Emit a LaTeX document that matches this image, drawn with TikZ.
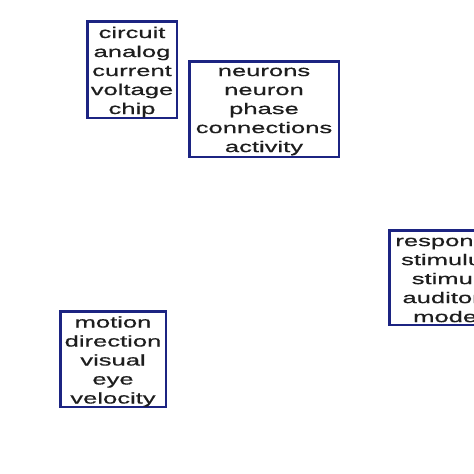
\documentclass[tikz,border=0pt]{standalone}
\usepackage{fontspec}
\newfontfamily\wordfont[FakeStretch=1.65,FakeBold=0.6]{Liberation Sans}
\definecolor{boxblue}{RGB}{28,36,130}
\definecolor{wordgray}{RGB}{30,30,30}
\tikzset{
  frame/.style={draw=boxblue, line width=2.5pt, rectangle, inner sep=0pt},
  words/.style={inner sep=0pt, align=center,
    font=\wordfont\fontsize{15.5}{19}\selectfont, text=wordgray}}
\begin{document}
\begin{tikzpicture}[x=1pt,y=-1pt]
\useasboundingbox (0,0) rectangle (474,474);
\clip (0,0) rectangle (474,474);
\fill[white] (0,0) rectangle (474,474);
\node[frame, minimum width=89.5pt, minimum height=96.5pt] (f1) at (132,69.5) {};
\node[words] (t1) at ([yshift=-2.5pt]f1.center) {circuit\\analog\\current\\voltage\\chip};
\node[frame, minimum width=149.5pt, minimum height=95.5pt] (f2) at (264,109) {};
\node[words] (t2) at ([yshift=-2.5pt]f2.center) {neurons\\neuron\\phase\\connections\\activity};
\node[frame, minimum width=117.5pt, minimum height=94.5pt] (f3) at (448,277.5) {};
\node[words] (t3) at ([yshift=-2.5pt]f3.center) {response\\stimulus\\stimuli\\auditory\\model};
\node[frame, minimum width=105.5pt, minimum height=95.5pt] (f4) at (113,359) {};
\node[words] (t4) at ([yshift=-2.5pt]f4.center) {motion\\direction\\visual\\eye\\velocity};
\end{tikzpicture}
\end{document}
